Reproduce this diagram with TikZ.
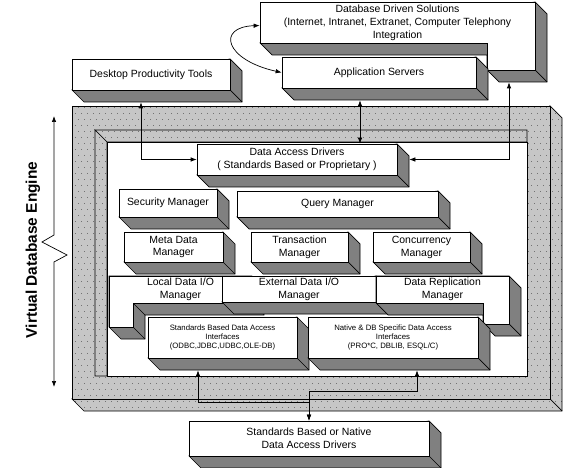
\documentclass[tikz,border=0pt]{standalone}
\usepackage{fontspec}
\setmainfont{Liberation Sans}
\usetikzlibrary{arrows.meta,patterns}

\definecolor{shadowgray}{HTML}{808080}
\definecolor{framegray}{HTML}{C6C6C6}

\pgfdeclarepatternformonly{framedots}{\pgfpoint{-1bp}{-1bp}}{\pgfpoint{7bp}{13bp}}{\pgfpoint{6bp}{12bp}}{%
   \pgfpathrectangle{\pgfpoint{0bp}{0bp}}{\pgfpoint{0.7bp}{0.7bp}}%
   \pgfpathrectangle{\pgfpoint{3bp}{6bp}}{\pgfpoint{0.7bp}{0.7bp}}%
   \pgfusepath{fill}}

\tikzset{
   face/.style={draw, fill=white, inner sep=0pt, align=center},
   tag/.style={inner sep=0pt, align=center},
   ghost/.style={inner sep=0pt},
   side/.style={draw, fill=shadowgray},
   framefill/.style={draw, preaction={fill=framegray}, pattern=framedots},
   smalltext/.style={font=\fontsize{7.8}{9.5}\selectfont}
}

% [options]{name}{x1}{y1}{x2}{y2}{text}
\newcommand{\slab}[7][]{%
   \filldraw[side] (#5,#4) -- (#5+12,#4+12) -- (#5+12,#6+12) -- (#3+12,#6+12) -- (#3,#6) -- cycle;
   \draw (#5,#6) -- (#5+12,#6+12);
   \node[face, #1, minimum width={#5bp-#3bp}, minimum height={#6bp-#4bp}] (#2) at ({(#3+#5)/2},{(#4+#6)/2}) {#7};
   \node[ghost, minimum width={#5bp-#3bp+12bp}, minimum height={#6bp-#4bp+12bp}] (#2-3d) at ({(#3+#5)/2+6},{(#4+#6)/2+6}) {};
}

\begin{document}
\begin{tikzpicture}[x=1bp, y=-1bp, line width=0.7bp, >={Latex[length=6bp,width=4.5bp]}, font=\fontsize{10.5}{13}\selectfont]
   \useasboundingbox (0,0) rectangle (563,468);

   \filldraw[framefill] (550,106) -- (562,118) -- (562,411) -- (84,411) -- (72,399) -- (550,399) -- cycle;
   \draw (550,399) -- (562,411);
   \filldraw[framefill] (72,106) rectangle (550,399);
   \filldraw[framefill] (95,130) -- (527,130) -- (527,142) -- (107,142) -- cycle;
   \filldraw[framefill] (95,130) -- (107,142) -- (107,376) -- (95,376) -- cycle;
   \filldraw[fill=white] (107,142) rectangle (527,376);

   \filldraw[side] (260,43) -- (272,55) -- (487,55) -- (487,70) -- (499,82) -- (547,82) -- (547,14) -- (535,2) -- cycle;
   \draw (535,70) -- (547,82);
   \filldraw[fill=white] (260,2) -- (535,2) -- (535,70) -- (487,70) -- (487,43) -- (260,43) -- cycle;
   \node[tag, minimum width=275bp, minimum height=41bp] (dds) at (397.5,22.5) {Database Driven Solutions\\(Internet, Intranet, Extranet, Computer Telephony\\Integration};
   \node[ghost, minimum width=287bp, minimum height=80bp] (dds-3d) at (403.5,42) {};

   \slab{as}{282}{57}{476}{88}{Application Servers}
   \slab{dpt}{72}{59}{230}{90}{Desktop Productivity Tools}

   \slab{dad}{197}{144}{397}{175}{Data Access Drivers\\( Standards Based or Proprietary )}
   \slab{secm}{119}{189}{217}{217}{Security Manager}
   \slab{qrym}{237}{191}{438}{217}{Query Manager}
   \slab{meta}{124}{232}{223}{262}{Meta Data\\Manager}
   \slab{trans}{251}{232}{348}{262}{Transaction\\Manager}
   \slab{conc}{373}{232}{470}{262}{Concurrency\\Manager}

   \filldraw[side] (252,276) -- (264,288) -- (264,315) -- (145,315) -- (145,339) -- (121,339) -- (109,327) -- (109,276) -- cycle;
   \draw (133,303) -- (145,315) (133,327) -- (145,339) (252,303) -- (264,315);
   \filldraw[fill=white] (109,276) -- (252,276) -- (252,303) -- (133,303) -- (133,327) -- (109,327) -- cycle;
   \node[tag] (lclio) at (180.5,289.5) {Local Data I/O\\Manager};

   \slab{extio}{222}{276}{376}{302}{External Data I/O\\Manager}

   \filldraw[side] (376,303) -- (388,315) -- (483,315) -- (483,324) -- (495,336) -- (521,336) -- (521,288) -- (509,276) -- (376,276) -- cycle;
   \draw (509,324) -- (521,336);
   \filldraw[fill=white] (376,276) -- (509,276) -- (509,324) -- (483,324) -- (483,303) -- (376,303) -- cycle;
   \node[tag] (drep) at (442.5,289.5) {Data Replication\\Manager};

   \slab[smalltext]{sbi}{148}{317}{297}{358}{Standards Based Data Access\\Interfaces\\(ODBC,JDBC,UDBC,OLE-DB)}
   \slab[smalltext]{nbi}{308}{317}{478}{358}{Native \& DB Specific Data Access\\Interfaces\\(PRO*C, DBLIB, ESQL/C)}

   \slab{sbn}{189}{421}{429}{456}{Standards Based or Native\\Data Access Drivers}

   \node[rotate=90, font=\fontsize{15.5}{18}\selectfont\bfseries] (vde) at (33,250) {Virtual Database Engine};
   \coordinate (vde-top) at (54,116);
   \coordinate (vde-bot) at (54,387);
   \draw[<->] (vde-top) -- (54,235) -- (42,242) -- (67,255) -- (54,262) -- (vde-bot);

   \coordinate (dpt-tap) at (141,0);
   \coordinate (as-tap) at (360,0);
   \coordinate (dds-tap) at (509,0);
   \coordinate (sbi-tap) at (198,0);
   \coordinate (nbi-tap) at (417,0);
   \draw[<->] ([yshift=-3bp]dds.west) .. controls (216,27) and (225,60) .. (as.west);
   \draw[<->] (dpt-3d.south -| dpt-tap) |- (dad.west);
   \draw[<->] (as-3d.south -| as-tap) -- (dad.north -| as-tap);
   \draw[<->] (dds-3d.south -| dds-tap) |- (dad-3d.east |- dad.west);
   \draw[<->] (sbi-3d.south -| sbi-tap) -- ++(0,32) -| (sbn.north);
   \draw[<->] (nbi-3d.south -| nbi-tap) -- ++(0,21) -| (sbn.north);
\end{tikzpicture}
\end{document}
